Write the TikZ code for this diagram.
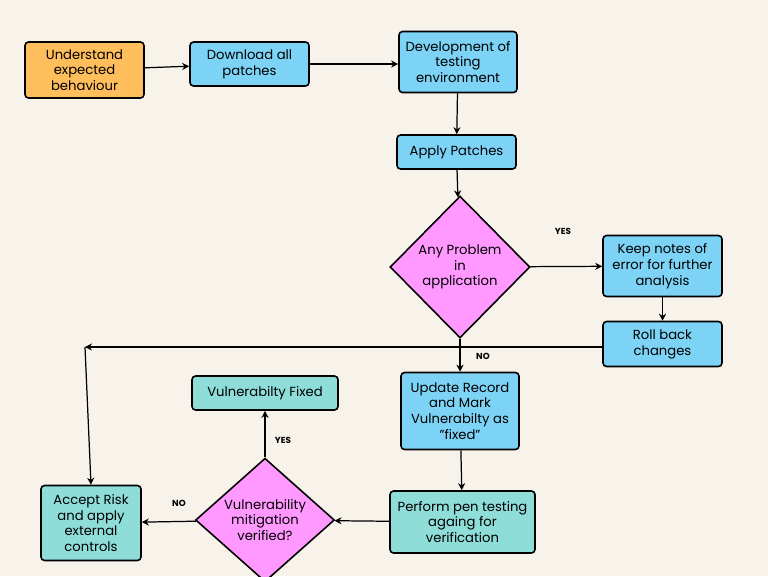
\documentclass[tikz,border=0pt]{standalone}
\usepackage{fontspec}
\setmainfont{Poppins}
\usetikzlibrary{shapes.geometric,arrows.meta}
\definecolor{bg}{HTML}{F7F3EB}
\definecolor{orng}{HTML}{FFBE5C}
\definecolor{sky}{HTML}{7DD3F5}
\definecolor{teal}{HTML}{8EDDD9}
\definecolor{pink}{HTML}{FF99FF}
\begin{document}
\begin{tikzpicture}[x=0.02cm,y=-0.02cm,
  box/.style={draw,line width=0.9pt,rounded corners=2pt,align=center,inner sep=1pt,
    font=\fontsize{7.5}{9}\selectfont},
  dia/.style={draw,line width=0.9pt,diamond,fill=pink,align=center,inner sep=0pt,
    font=\fontsize{7.5}{9}\selectfont},
  arr/.style={-{Stealth[length=4pt,width=4pt]},line width=0.7pt},
  lbl/.style={font=\bfseries\fontsize{5}{6}\selectfont}]
\fill[bg] (0,0) rectangle (768,576);
\useasboundingbox (0,0) rectangle (768,576);

\node[box,fill=orng,minimum width=2.38cm,minimum height=1.12cm] (und) at (84.5,70) {Understand\\expected\\behaviour};
\node[box,fill=sky,minimum width=2.38cm,minimum height=0.88cm] (dl) at (249.5,64) {Download all\\patches};
\node[box,fill=sky,minimum width=2.36cm,minimum height=1.22cm] (dev) at (458,62) {Development of\\testing\\environment};
\node[box,fill=sky,minimum width=2.38cm,minimum height=0.68cm] (app) at (456.5,152) {Apply Patches};
\node[dia,minimum width=2.8cm,minimum height=2.84cm] (q1) at (460,267) {Any Problem\\in\\application};
\node[box,fill=sky,minimum width=2.38cm,minimum height=1.22cm] (keep) at (662.5,266) {Keep notes of\\error for further\\analysis};
\node[box,fill=sky,minimum width=2.38cm,minimum height=0.9cm] (roll) at (662.5,344) {Roll back\\changes};
\node[box,fill=sky,minimum width=2.36cm,minimum height=1.54cm] (upd) at (460,411) {Update Record\\and Mark\\Vulnerabilty as\\"fixed"};
\node[box,fill=teal,minimum width=2.92cm,minimum height=0.68cm] (fix) at (265,393) {Vulnerabilty Fixed};
\node[box,fill=teal,minimum width=2.9cm,minimum height=1.24cm] (pen) at (462.5,522) {Perform pen testing\\againg for\\verification};
\node[dia,minimum width=2.78cm,minimum height=2.34cm] (q2) at (265,520) {Vulnerability\\mitigation\\verified?};
\node[box,fill=teal,minimum width=2cm,minimum height=1.5cm] (acc) at (91,523) {Accept Risk\\and apply\\external\\controls};
\coordinate (turn) at (85,347);

\draw[arr] (und) -- (dl);
\draw[arr] (dl) -- (dev.west|-dl);
\draw[arr] (dev) -- (app);
\draw[arr] (app) -- (q1);
\draw[arr] (q1) -- (keep);
\draw[arr] (keep) -- (roll);
\draw[arr] (roll.west|-turn) -- (turn);
\draw[arr] (turn) -- (acc.north);
\draw[arr] (q1) -- (upd);
\draw[arr] (upd) -- (pen);
\draw[arr] (pen) -- (q2);
\draw[arr] (q2) -- (acc);
\draw[arr] (q2) -- (fix);

\node[lbl] (yes1) at (563,231) {YES};
\node[lbl] (no1) at (483,356) {NO};
\node[lbl] (no2) at (179,503) {NO};
\node[lbl] (yes2) at (283,440) {YES};
\end{tikzpicture}
\end{document}
